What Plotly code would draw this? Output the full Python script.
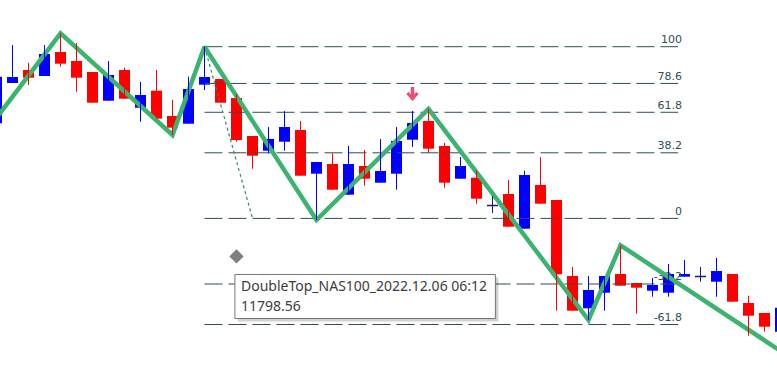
import plotly.graph_objects as go

# ---------------- data ----------------
idx = list(range(-1, 49))
opens = [11931.7, 11972, 11985, 11979, 12003, 11994, 11983, 11954.3, 11985, 11947.3,
         11964.3, 11939, 11931.3, 11970.3, 11976, 11957, 11919, 11904.3, 11913.3, 11925,
         11881.3, 11891, 11860.3, 11889, 11872.3, 11881.3, 11915.3, 11934, 11909, 11876.3,
         11877.3, 11849.5, 11861, 11826.3, 11870, 11855, 11779, 11746.7, 11762.3, 11781,
         11772, 11764.3, 11762.3, 11778.3, 11778.5, 11773.3, 11781, 11752, 11742, 11723.3]
highs = [11985, 12010, 11992.3, 12010, 12021.7, 12012, 11983, 11994, 11987.3, 11973,
         11985, 11955, 11978.3, 12008.3, 11976, 11961, 11919, 11928, 11944, 11934,
         11893, 11901.7, 11909, 11905, 11916, 11928, 11944, 11946, 11912, 11898,
         11884.3, 11859, 11875, 11884.3, 11898, 11855, 11788, 11779, 11779, 11809.7,
         11772, 11777, 11791, 11795, 11788, 11797, 11781, 11759.3, 11742, 11755]
lows = [11929, 11972, 11970, 11979, 11988.3, 11963.3, 11952.3, 11954.3, 11956.3, 11933.3,
        11936.3, 11920, 11931.3, 11965, 11952.3, 11913.3, 11886.3, 11901.7, 11904.3, 11879.3,
        11835, 11865.3, 11860.3, 11869.3, 11872.3, 11865.3, 11908, 11902, 11867.3, 11876.3,
        11851.3, 11842, 11828.3, 11826.3, 11851.3, 11744.3, 11744.3, 11735, 11744.3, 11769.3,
        11741.3, 11758.3, 11758.3, 11778.3, 11773.3, 11758.3, 11753.3, 11719.3, 11723.3, 11723.3]
closes = [11978.3, 11978, 11977.3, 12001, 11991.3, 11977.3, 11952.3, 11980, 11956.3, 11960,
          11936.3, 11927.3, 11966, 11978, 11952.3, 11915, 11899.3, 11916, 11928, 11879.3,
          11893, 11865.3, 11891, 11876.3, 11884, 11914, 11932, 11906.3, 11872.3, 11889,
          11856.3, 11849.5, 11828.3, 11880, 11851.3, 11780.7, 11744.3, 11765, 11779, 11769.3,
          11767.3, 11770, 11781, 11781, 11778.5, 11784, 11753.3, 11739.3, 11728.3, 11747.3]

# zigzag pivots (candle index, price)
zz_idx = [-2, 3, 10, 12, 19, 26, 36, 38, 49]
zz_price = [11916, 12021.7, 11920, 12008.3, 11835, 11946, 11735, 11809.7, 11693.5]

# Fibonacci retracement anchors
fib_idx = [12, 15]
fib_price = [12008.3, 11836.6]
fib_pcts = [100, 78.6, 61.8, 38.2, 0, -38.2, -61.8]
fib_labels = ["100", "78.6", "61.8", "38.2", "0", "-38.2", "-61.8"]
fib_end_idx = 41.6

# objects
diamond_idx, diamond_price = 14, 11798.56
tooltip_lines = ["DoubleTop_NAS100_2022.12.06 06:12", "11798.56"]
arrow_idx, arrow_price = 25, 11961.5

# ---------------- styling ----------------
RED, BLUE, NAVY = "#ff0000", "#0000ff", "#191970"
GREEN = "#3cb371"
FIBC = "#2f4f4f"
PINK = "#ee4a7c"
Y0, Y1 = 11686, 12055
X0, X1 = -12.5 / 16, (777 - 12.5) / 16
PX = 1 / 16  # one pixel in x units

fig = go.Figure()

# fib levels
hi, lo = fib_price[0], fib_price[1]
lv = [lo + (hi - lo) * p / 100 for p in fib_pcts]
fx, fy = [], []
for v in lv:
    fx += [fib_idx[0], fib_end_idx, None]
    fy += [v, v, None]
fig.add_trace(go.Scatter(x=fx, y=fy, mode="lines",
                         line=dict(color=FIBC, width=1, dash="18px,6px"), hoverinfo="skip"))
fig.add_trace(go.Scatter(x=[fib_end_idx + 4 * PX] * len(lv), y=[v + 1 for v in lv], mode="text",
                         text=fib_labels, textposition="top left",
                         textfont=dict(family="DejaVu Sans", size=11, color=FIBC), hoverinfo="skip"))
# fib diagonal
fig.add_trace(go.Scatter(x=fib_idx, y=fib_price, mode="lines",
                         line=dict(color="#2e8b57", width=1.2, dash="dot"), hoverinfo="skip"))

# zigzag
fig.add_trace(go.Scatter(x=zz_idx, y=zz_price, mode="lines",
                         line=dict(color=GREEN, width=4.5), hoverinfo="skip"))

# diamond & arrow (stem + chevron head)
fig.add_trace(go.Scatter(x=[diamond_idx], y=[diamond_price], mode="markers",
                         marker=dict(symbol="diamond", size=11, color="#7f7f7f"), hoverinfo="skip"))
fig.add_trace(go.Scatter(x=[arrow_idx, arrow_idx], y=[arrow_price + 6.5, arrow_price - 3],
                         mode="lines", line=dict(color=PINK, width=3.5), hoverinfo="skip"))
fig.add_trace(go.Scatter(x=[arrow_idx - 5 * PX, arrow_idx, arrow_idx + 5 * PX],
                         y=[arrow_price + 0.5, arrow_price - 5, arrow_price + 0.5],
                         mode="lines", line=dict(color=PINK, width=3.2), hoverinfo="skip"))

# candles
def col(o, c):
    return BLUE if c > o else (RED if c < o else NAVY)

wick = {RED: ([], []), BLUE: ([], []), NAVY: ([], [])}
bx, bbase, bh, bc = [], [], [], []
dx, dy = [], []
for k, o, h, l, c in zip(idx, opens, highs, lows, closes):
    cc = col(o, c)
    wick[cc][0].extend([k, k, None])
    wick[cc][1].extend([l, h, None])
    if cc == NAVY:
        dx += [k - 5.5 * PX, k + 5.5 * PX, None]
        dy += [o, o, None]
    else:
        bx.append(k)
        bbase.append(min(o, c))
        bh.append(abs(c - o))
        bc.append(cc)
for cc, (wx, wy) in wick.items():
    fig.add_trace(go.Scatter(x=wx, y=wy, mode="lines", line=dict(color=cc, width=1), hoverinfo="skip"))
fig.add_trace(go.Bar(x=bx, y=bh, base=bbase, width=11 * PX, marker=dict(color=bc, line=dict(width=0)),
                     hoverinfo="skip"))
fig.add_trace(go.Scatter(x=dx, y=dy, mode="lines", line=dict(color=NAVY, width=1.5), hoverinfo="skip"))

# tooltip
tx0, tx1 = 13.9, 30.18
ty1, ty0 = Y1 - 274.5, Y1 - 318.5
fig.add_shape(type="rect", x0=tx0 + 3 * PX, x1=tx1 + 3 * PX, y0=ty0 - 3, y1=ty1 - 3,
              fillcolor="rgba(0,0,0,0.18)", line=dict(width=0), layer="above")
fig.add_shape(type="rect", x0=tx0, x1=tx1, y0=ty0, y1=ty1,
              fillcolor="white", line=dict(color="#767676", width=1), layer="above")
for i, t in enumerate(tooltip_lines):
    fig.add_annotation(x=tx0 + 4 * PX, y=ty1 - 11 - 20 * i, text=t, showarrow=False,
                       xanchor="left", yanchor="middle",
                       font=dict(family="Noto Sans", size=14, color="#3c3c3c"))

fig.update_layout(width=777, height=369, margin=dict(l=0, r=0, t=0, b=0),
                  paper_bgcolor="white", plot_bgcolor="white", showlegend=False,
                  barmode="overlay",
                  xaxis=dict(range=[X0, X1], visible=False, fixedrange=True),
                  yaxis=dict(range=[Y0, Y1], visible=False, fixedrange=True))
fig.write_html("out.html")
